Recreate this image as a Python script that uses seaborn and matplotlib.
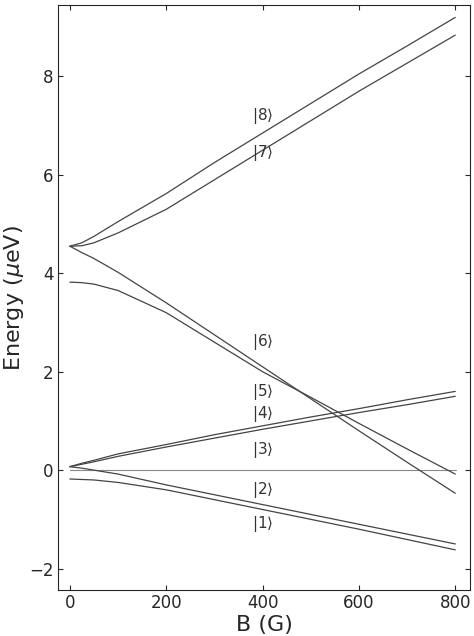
import matplotlib
matplotlib.use("Agg")
import matplotlib.pyplot as plt
import pandas as pd
import seaborn as sns

sns.set_style("ticks")

# values
b_field = [0, 25, 50, 100, 200, 300, 400, 500, 600, 700, 800]
levels = {
    "8": [4.55, 4.62, 4.75, 5.05, 5.62, 6.25, 6.85, 7.45, 8.05, 8.62, 9.2],
    "7": [4.55, 4.56, 4.62, 4.82, 5.3, 5.9, 6.5, 7.1, 7.7, 8.27, 8.84],
    "6": [4.55, 4.42, 4.3, 4.02, 3.4, 2.75, 2.1, 1.45, 0.8, 0.16, -0.47],
    "5": [3.82, 3.81, 3.78, 3.65, 3.2, 2.6, 2.0, 1.48, 0.95, 0.43, -0.08],
    "4": [0.07, 0.14, 0.2, 0.33, 0.52, 0.72, 0.9, 1.08, 1.25, 1.43, 1.6],
    "3": [0.07, 0.12, 0.17, 0.28, 0.47, 0.65, 0.83, 1.0, 1.17, 1.33, 1.5],
    "2": [0.07, 0.04, 0.0, -0.08, -0.3, -0.5, -0.7, -0.9, -1.1, -1.3, -1.5],
    "1": [-0.18, -0.19, -0.2, -0.25, -0.4, -0.6, -0.8, -1.0, -1.2, -1.41, -1.62],
}
label_pos = {"8": 7.2, "7": 6.45, "6": 2.6, "5": 1.58, "4": 1.14,
             "3": 0.4, "2": -0.4, "1": -1.1}

df = pd.DataFrame([(b, e, k) for k, vals in levels.items()
                   for b, e in zip(b_field, vals)], columns=["B", "E", "state"])

fig = plt.figure(figsize=(4.74, 6.36), dpi=100)
ax = fig.add_axes([0.122, 0.072, 0.870, 0.92])
ax.axhline(0, color="#888888", lw=0.8, xmin=0.03, xmax=0.965)
sns.lineplot(data=df, x="B", y="E", units="state", estimator=None,
             color="#444444", lw=0.9, ax=ax)
for k, y in label_pos.items():
    ax.text(400, y, r"$|%s\rangle$" % k, ha="center", va="center", fontsize=11,
            color="#333333")

ax.set_xlim(-25, 831)
ax.set_ylim(-2.44, 9.45)
ax.set_xticks([0, 200, 400, 600, 800])
ax.set_yticks([-2, 0, 2, 4, 6, 8])
ax.tick_params(direction="in", top=True, right=True, labelsize=12, pad=3)
ax.set_xlabel("B (G)", fontsize=16, labelpad=2)
ax.set_ylabel(r"Energy ($\mu$eV)", fontsize=16, labelpad=2)
fig.savefig("out.png", dpi=100)
